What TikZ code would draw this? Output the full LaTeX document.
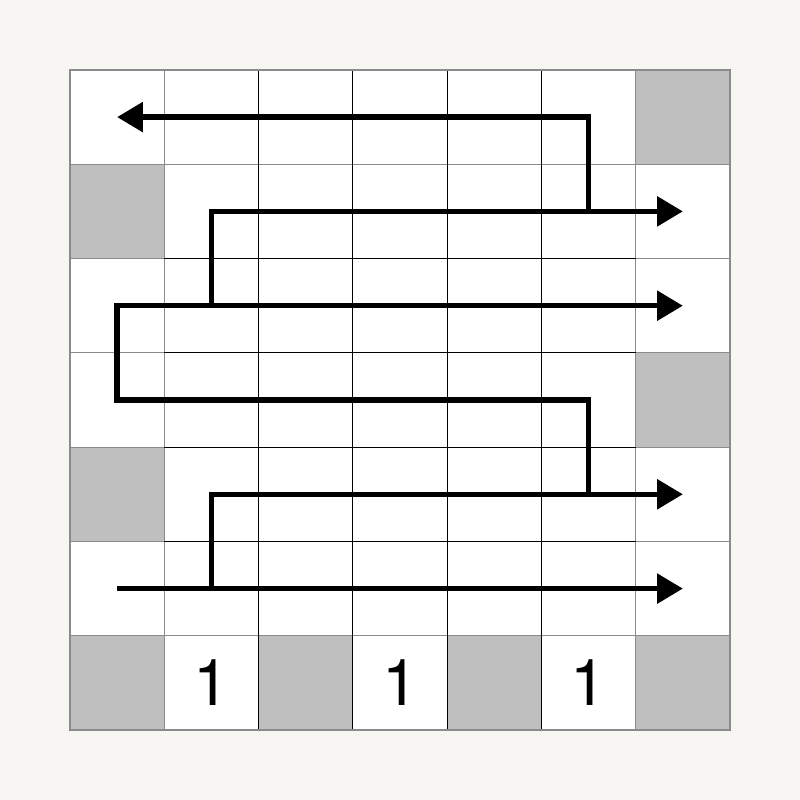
\documentclass[tikz,border=0pt]{standalone}
\usepackage{fontspec}
\setmainfont{TeX Gyre Heros}
\usetikzlibrary{arrows.meta}
\definecolor{paper}{HTML}{F7F6F2}
\definecolor{cellgray}{HTML}{BFBFBF}
\definecolor{edgegray}{HTML}{8A8A8A}
\begin{document}
\begin{tikzpicture}[
    thinline/.style={line width=0.35pt},
    route/.style={line width=1.6pt, black},
    routearrow/.style={route, -{Triangle[length=7.8pt,width=8.8pt]}},
    digit/.style={font=\fontsize{19.5}{19.5}\selectfont}]
    \fill[paper] (-0.742,-0.742) rectangle (7.742,7.742);
    \fill[white] (0,0) rectangle (7,7);

    % grey cells on the rim
    \foreach \c/\r in {0/1,0/4,0/6,6/0,6/3,6/6,2/6,4/6}
        \fill[cellgray] (\c,6-\r) rectangle (\c+1,7-\r);

    % grid
    \draw[thinline, edgegray] (0,0) grid (7,7);
    \foreach \i in {2,...,5} {
        \draw[thinline] (\i,0) -- (\i,7);
        \draw[thinline] (1,\i) -- (6,\i);
    }
    \draw[edgegray, line width=0.5pt] (0,0) rectangle (7,7);

    % cell centres
    \foreach \c in {0,...,6}
        \foreach \r in {0,...,6}
            \coordinate (c\c r\r) at (\c+0.5,6.5-\r);

    \foreach \c in {1,3,5}
        \node[digit] (n\c) at (c\c r6) {1};

    % the routes
    \draw[routearrow] (c0r5) -- (c6r5);
    \draw[routearrow] (c1r5) |- (c6r4);
    \draw[routearrow] (c5r4) -- (c5r3) -- (c0r3) -- (c0r2) -- (c6r2);
    \draw[routearrow] (c1r2) |- (c6r1);
    \draw[routearrow] (c5r1) -- (c5r0) -- (c0r0);
\end{tikzpicture}
\end{document}
